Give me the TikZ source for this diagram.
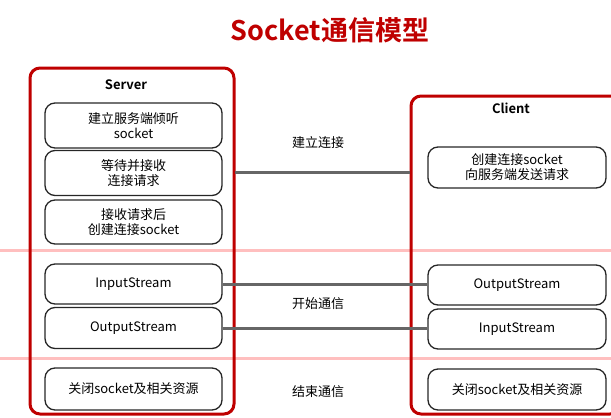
\documentclass[tikz,border=0pt]{standalone}
\usepackage{fontspec}
\setmainfont{Noto Sans CJK SC}[BoldFont={Noto Sans CJK SC Bold}]
\begin{document}
\begin{tikzpicture}[x=1pt,y=-1pt,
  big/.style={draw=red!75!black,line width=3pt,rounded corners=10pt},
  stp/.style={draw=black!85,line width=1.3pt,rounded corners=10pt,align=center,font=\fontsize{13}{15}\selectfont,inner sep=0pt},
  link/.style={draw=black!60,line width=3pt},
  sep/.style={draw=red!25,line width=3pt},
  lbl/.style={font=\fontsize{13}{15}\selectfont}]
\useasboundingbox (0,0) rectangle (611,418);
\draw[sep] (0,250) -- (611,250);
\draw[sep] (0,358) -- (611,358);
\node[font=\fontsize{27}{30}\selectfont\bfseries,text=red!75!black] (title) at (330,30) {Socket通信模型};
\draw[big] (30,68) rectangle (234,414);
\draw[big] (411,96) rectangle (620,414);
\node[font=\fontsize{13}{15}\selectfont\bfseries] (server) at (126,85) {Server};
\node[font=\fontsize{13}{15}\selectfont\bfseries] (client) at (511,108) {Client};
\node[stp,minimum width=177pt,minimum height=45pt] (s1) at (133.5,125.5) {建立服务端倾听\\socket};
\node[stp,minimum width=177pt,minimum height=45pt] (s2) at (133.5,173) {等待并接收\\连接请求};
\node[stp,minimum width=177pt,minimum height=44pt] (s3) at (133.5,222) {接收请求后\\创建连接socket};
\node[stp,minimum width=177pt,minimum height=40pt] (s4) at (133.5,284) {InputStream};
\node[stp,minimum width=177pt,minimum height=41pt] (s5) at (133.5,328) {OutputStream};
\node[stp,minimum width=177pt,minimum height=42pt] (s6) at (133.5,389) {关闭socket及相关资源};
\node[stp,minimum width=178pt,minimum height=41pt] (c1) at (517,167.5) {创建连接socket\\向服务端发送请求};
\node[stp,minimum width=178pt,minimum height=40pt] (c2) at (517,285) {OutputStream};
\node[stp,minimum width=178pt,minimum height=40pt] (c3) at (517,329) {InputStream};
\node[stp,minimum width=178pt,minimum height=41pt] (c4) at (517,389.5) {关闭socket及相关资源};
\coordinate (a1) at (235,172);
\coordinate (b1) at (410,172);
\draw[link] (a1) -- (b1);
\draw[link] (s4.east) -- (s4.east -| c2.west);
\draw[link] (s5.east) -- (s5.east -| c3.west);
\node[lbl] (t1) at (318,143) {建立连接};
\node[lbl] (t2) at (318,304) {开始通信};
\node[lbl] (t3) at (318,392) {结束通信};
\end{tikzpicture}
\end{document}
